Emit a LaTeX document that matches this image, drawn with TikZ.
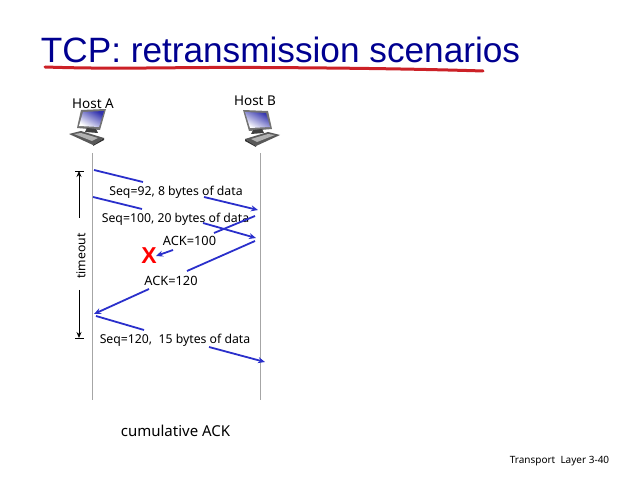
\documentclass[tikz,border=0pt]{standalone}
\usepackage{fontspec}
\setmainfont{Noto Sans}
\newfontfamily\titlefont{Liberation Sans}
\usetikzlibrary{positioning,arrows.meta}
\definecolor{segblue}{HTML}{2A2FCB}
\definecolor{titleblue}{HTML}{000090}
\definecolor{inkred}{HTML}{CC2127}
\tikzset{lbl/.style={inner sep=0pt,font=\fontsize{12.25}{14}\selectfont,text=black},
	 hostlbl/.style={inner sep=0pt,font=\fontsize{13.5}{16}\selectfont,text=black},
	 seg/.style={draw=segblue,line width=1.8pt},
	 segarrow/.style={seg,-{Stealth[length=7pt,width=6pt]}},
	 life/.style={draw=black!35,line width=1pt},
	 timer/.style={draw=black,line width=0.8pt},
	 hostpc/.pic={
		\fill[black!55] (-8,-14) -- (17,-15) -- (11,6) -- (-12,4) -- cycle;
		\shade[left color=blue!60!black!80,right color=white,shading angle=-30] (-6,-12) -- (15,-13) -- (10,3) -- (-10,2) -- cycle;
		\fill[black!75] (-2,4) -- (7,5) -- (9,9) -- (-4,8) -- cycle;
		\fill[black!65] (-20,10) -- (-8,7) -- (15,14) -- (4,21) -- cycle;
		\fill[black!30] (-15,10) -- (-8,9) -- (9,14) -- (3,17) -- cycle;
		\fill[black!80] (4,21) -- (15,14) -- (15,16) -- (4,22) -- cycle;
	 }
	 }

\begin{document}
\begin{tikzpicture}[x=1pt,y=-1pt]% retransmission after lost ACK
        \useasboundingbox (0,0) rectangle (638,478);
        \node[inner sep=0pt,text=titleblue,font=\titlefont\fontsize{35.2}{40}\selectfont] (title) at (280.5,50) {TCP: retransmission scenarios};
        \coordinate (u1) at (45,67); \coordinate (u2) at (483,71);
        \draw[draw=inkred,line width=3pt,line cap=round] (u1) .. controls (120,69.5) and (170,67) .. (260,67.5) .. controls (350,68) and (420,69) .. (u2);

        \node[hostlbl] (hosta) at (93,103.5) {Host A};
        \node[hostlbl] (hostb) at (255,101) {Host B};
        \pic at (89,124) {hostpc};
        \pic[xscale=-1] at (260,125) {hostpc};

        \coordinate (at) at (92,153); \coordinate (ab) at (92,400);
        \coordinate (bt) at (260,153); \coordinate (bb) at (260,400);
        \draw[life] (at) to (ab); \draw[life] (bt) to (bb);

        % timeout
        \node[lbl,rotate=90] (timeout) at (81,256) {timeout};
        \coordinate (tt) at (79,171); \coordinate (t1) at (79,218);
        \coordinate (t2) at (79,290); \coordinate (tb) at (79,338);
        \draw[timer,-{Stealth[length=6pt,width=5pt]}] (t1) to (tt);
        \draw[timer,-{Stealth[length=6pt,width=5pt]}] (t2) to (tb);
        \draw[timer] (75,171) to (84,171); \draw[timer] (75,338) to (84,338);

        % segments
        \node[lbl] (seq92) at (176,192.5) {Seq=92, 8 bytes of data};
        \coordinate (s1a) at (94,170); \coordinate (s1b) at (143,182);
        \coordinate (s1c) at (204,197); \coordinate (s1d) at (258,210);
        \draw[seg] (s1a) to (s1b); \draw[segarrow] (s1c) to (s1d);

        \node[lbl] (seq100) at (175.5,219.5) {Seq=100, 20 bytes of data};
        \coordinate (s2a) at (93,197); \coordinate (s2b) at (142,209);
        \coordinate (s2c) at (203,223); \coordinate (s2d) at (256,238);
        \draw[seg] (s2a) to (s2b); \draw[segarrow] (s2c) to (s2d);

        \node[lbl,font=\fontsize{12.8}{14}\selectfont] (ack100) at (189.5,241) {ACK=100};
        \coordinate (k1a) at (255,216); \coordinate (k1b) at (214,233);
        \coordinate (k1c) at (173,250); \coordinate (k1d) at (156,256);
        \draw[seg] (k1a) to (k1b); \draw[segarrow] (k1c) to (k1d);
        \node[inner sep=0pt,text=red,font=\titlefont\bfseries\fontsize{23}{26}\selectfont] (lost) at (149,256) {X};

        \node[lbl,font=\fontsize{12.8}{14}\selectfont] (ack120) at (171,281) {ACK=120};
        \coordinate (k2a) at (255,241); \coordinate (k2b) at (187,271);
        \coordinate (k2c) at (149,289); \coordinate (k2d) at (94,314);
        \draw[seg] (k2a) to (k2b); \draw[segarrow] (k2c) to (k2d);

        \node[lbl] (seq120) at (175,340.5) {Seq=120,\ \ 15 bytes of data};
        \coordinate (s3a) at (96,316); \coordinate (s3b) at (144,330);
        \coordinate (s3c) at (209,347); \coordinate (s3d) at (265,362);
        \draw[seg] (s3a) to (s3b); \draw[segarrow] (s3c) to (s3d);

        \node[inner sep=0pt,font=\fontsize{15}{18}\selectfont,text=black] (cumack) at (175.5,430.5) {cumulative ACK};
        \node[lbl,font=\fontsize{10}{12}\selectfont] (footer) at (559.5,461) {Transport\ \ Layer 3-40};
\end{tikzpicture}
\end{document}
